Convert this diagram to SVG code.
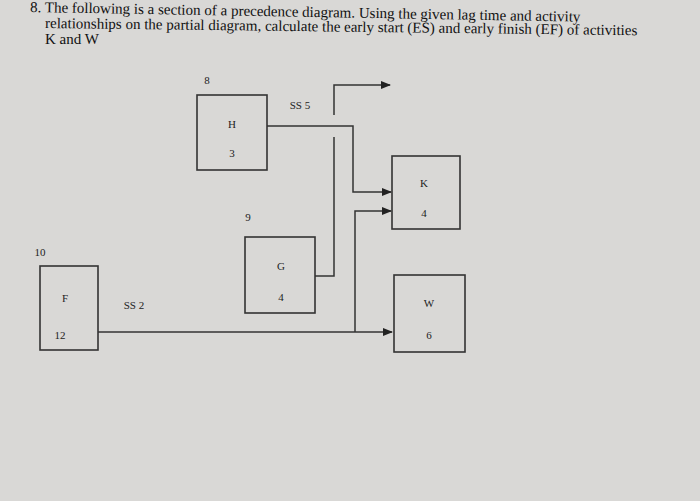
<svg xmlns="http://www.w3.org/2000/svg" width="700" height="501" viewBox="0 0 700 501">
<defs><marker id="a" markerWidth="10" markerHeight="8" refX="9" refY="4" orient="auto" markerUnits="userSpaceOnUse"><path d="M0,0L10,4L0,8z" fill="#222"/></marker>
<style>.b{fill:none;stroke:#333;stroke-width:1.6}.t{font-family:"Liberation Serif",serif;font-size:11px;fill:#222;text-anchor:middle}.h{font-family:"Liberation Serif",serif;font-size:15px;fill:#111}.c{fill:none;stroke:#333;stroke-width:1.5}</style></defs>
<rect width="700" height="501" fill="#d9d8d6"/>
<text class="h" x="30" y="12" transform="rotate(1 30 12)">8. The following is a section of a precedence diagram. Using the given lag time and activity</text>
<text class="h" x="45" y="28" transform="rotate(0.7 45 28)">relationships on the partial diagram, calculate the early start (ES) and early finish (EF) of activities</text>
<text class="h" x="45" y="44">K and W</text>
<g id="H"><rect class="b" x="197" y="95" width="70" height="75"/><text class="t" x="232" y="128">H</text><text class="t" x="232" y="157">3</text><text class="t" x="207" y="84">8</text></g>
<g id="G"><rect class="b" x="245" y="237" width="70" height="76"/><text class="t" x="281" y="270">G</text><text class="t" x="281" y="301">4</text><text class="t" x="248" y="221">9</text></g>
<g id="K"><rect class="b" x="392" y="156" width="68" height="73"/><text class="t" x="424" y="187">K</text><text class="t" x="424" y="217">4</text></g>
<g id="W"><rect class="b" x="394" y="275" width="71" height="77"/><text class="t" x="429" y="307">W</text><text class="t" x="429" y="339">6</text></g>
<g id="F"><rect class="b" x="40" y="266" width="58" height="84"/><text class="t" x="65" y="302">F</text><text class="t" x="60" y="339">12</text><text class="t" x="40" y="256">10</text></g>
<g id="connectors">
<path class="c" d="M267,126H353V192H391" marker-end="url(#a)"/>
<path class="c" d="M315,276H334V137"/>
<path class="c" d="M334,115V85H390" marker-end="url(#a)"/>
<path class="c" d="M98,332H392" marker-end="url(#a)"/>
<path class="c" d="M355,332V211H391" marker-end="url(#a)"/>
<text class="t" x="300" y="109">SS 5</text>
<text class="t" x="134" y="309">SS 2</text>
</g>
</svg>
